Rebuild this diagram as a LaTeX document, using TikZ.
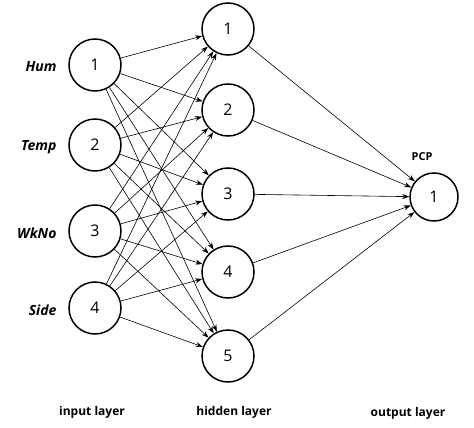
\documentclass[tikz,border=0pt]{standalone}
\usepackage{fontspec}
\setmainfont{Open Sans}
\usetikzlibrary{arrows.meta}

\begin{document}
\begin{tikzpicture}[>={Stealth[length=7pt,width=5pt]}, x=1pt, y=-1pt,
    neuron/.style={draw, circle, line width=1.5pt, minimum size=52pt, inner sep=0pt, font=\fontsize{16}{16}\selectfont},
    varname/.style={font=\fontsize{14}{14}\selectfont\bfseries\itshape},
    layername/.style={font=\fontsize{12}{12}\selectfont\bfseries}]
  \useasboundingbox (0,0) rectangle (474,428);

  % Input layer
  \foreach \i/\y/\name in {1/65/Hum, 2/145/Temp, 3/231/WkNo, 4/308/Side} {
    \node[neuron] (in\i) at (95,\y) {\i};
    \node[varname, anchor=east] (var\i) at (60,\y+2) {\name};
  }

  % Hidden layer
  \foreach \j/\y in {1/29, 2/110, 3/194, 4/272, 5/356}
    \node[neuron] (hid\j) at (228,\y) {\j};

  % Output layer
  \node[neuron, minimum size=48pt] (out1) at (434,197) {1};
  \node[font=\fontsize{11}{11}\selectfont\bfseries] (pcp) at (422,157) {PCP};

  % Connections
  \foreach \i in {1,...,4}
    \foreach \j in {1,...,5}
      \draw[->, semithick] (in\i) -- (hid\j);
  \foreach \j in {1,...,5}
    \draw[->, semithick] (hid\j) -- (out1);

  % Layer labels
  \node[layername] (lin) at (92,412) {input layer};
  \node[layername] (lhid) at (234,412) {hidden layer};
  \node[layername] (lout) at (408,413) {output layer};
\end{tikzpicture}
\end{document}
